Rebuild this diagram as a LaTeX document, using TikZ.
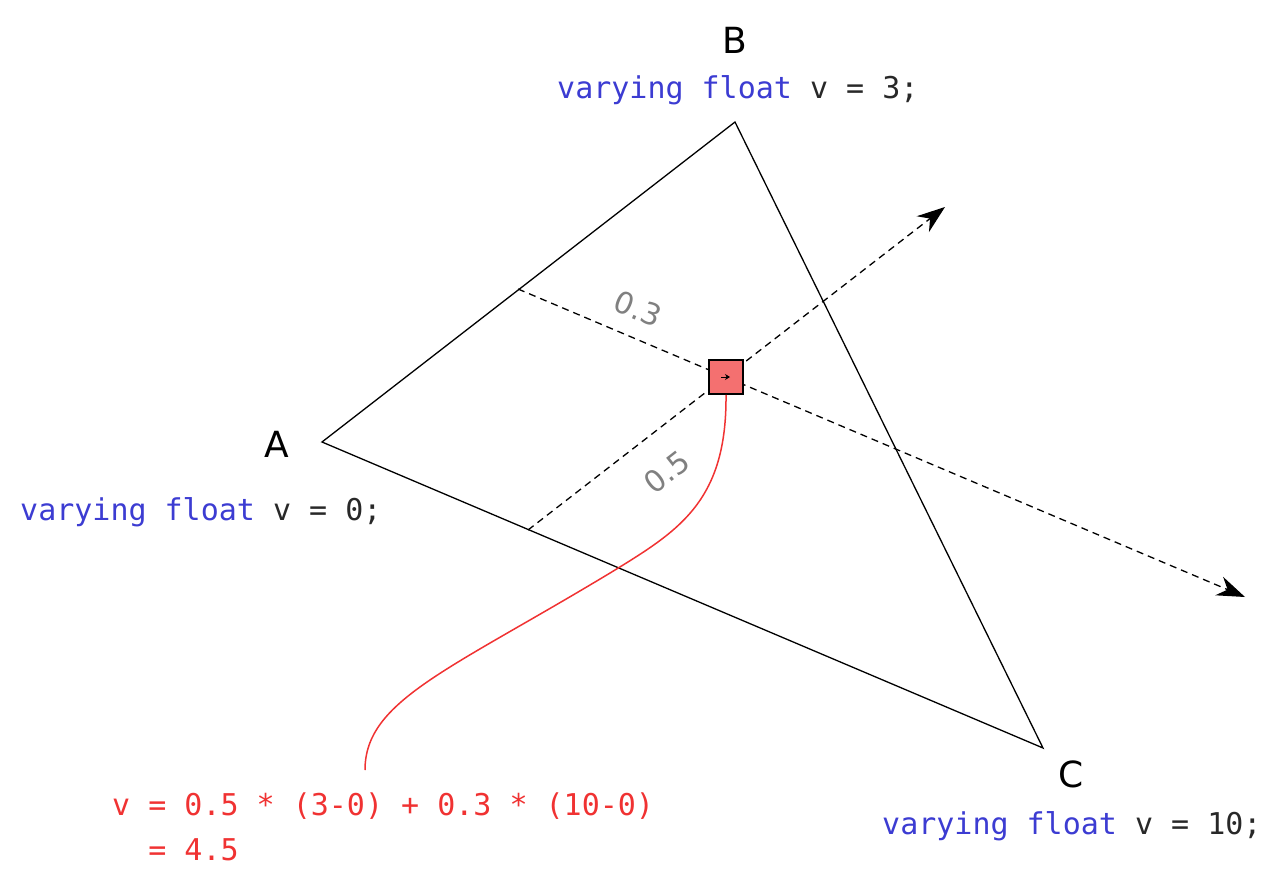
\documentclass[tikz,border=0pt]{standalone}
\usepackage{fontspec}
\setmainfont{DejaVu Sans}
\setmonofont{DejaVu Sans Mono}
\usetikzlibrary{arrows.meta}
\definecolor{kw}{RGB}{60,60,210}
\definecolor{tx}{RGB}{40,40,40}
\definecolor{rd}{RGB}{240,50,50}
\begin{document}
\begin{tikzpicture}[x=1pt,y=-1pt,
  code/.style={font=\ttfamily\fontsize{30}{36}\selectfont, text=tx, inner sep=0pt, anchor=west},
  vlabel/.style={font=\fontsize{36}{40}\selectfont, inner sep=0pt},
  dashline/.style={line width=1.3pt, dash pattern=on 7pt off 5pt},
  arrowtip/.style={-{Stealth[length=28pt,width=20pt]}},
  num/.style={font=\fontsize{30}{34}\selectfont, text=gray, inner sep=0pt}]
\useasboundingbox (0,0) rectangle (1280,883);
\coordinate (A) at (322,442);
\coordinate (B) at (735,122);
\coordinate (C) at (1043,748);
\coordinate (P) at (518,289);
\coordinate (Q) at (528,530);
\coordinate (T1) at (1245,597);
\coordinate (T2) at (945,207);
\coordinate (M) at (615,570);
\coordinate (E) at (365,770);
\draw[line width=1.3pt] (A) -- (B) -- (C) -- cycle;
\draw[dashline, arrowtip] (P) -- (T1);
\draw[dashline, arrowtip] (Q) -- (T2);
\node[draw, line width=1.5pt, fill=rd!70!white, minimum size=34pt, inner sep=0pt] (S) at (726,377) {};
\draw[-{Stealth[length=5pt,width=6pt]}, line width=0.8pt] (721,377) -- (730,377);
\draw[rd, line width=1.5pt] (S.south) .. controls (727,500) and (680,530) .. (M)
  .. controls (450,670) and (365,700) .. (E);
\node[num, rotate=-23] (n3) at (638,309) {0.3};
\node[num, rotate=38] (n5) at (667,472) {0.5};
\node[vlabel] (lA) at (277,444) {A};
\node[vlabel] (lB) at (735,40) {B};
\node[vlabel] (lC) at (1071,774) {C};
\node[code] (cB) at (557,90) {\textcolor{kw}{varying float} v = 3;};
\node[code] (cA) at (20,512) {\textcolor{kw}{varying float} v = 0;};
\node[code] (cC) at (882,826) {\textcolor{kw}{varying float} v = 10;};
\node[code, text=rd] (r1) at (112,806) {v = 0.5 * (3-0) + 0.3 * (10-0)};
\node[code, text=rd] (r2) at (112,850) {\ \ = 4.5};
\end{tikzpicture}
\end{document}
